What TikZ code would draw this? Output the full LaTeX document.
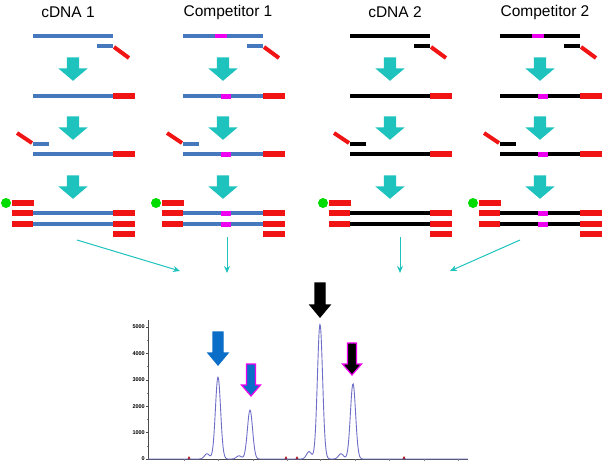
\documentclass[tikz,border=0pt]{standalone}
\usepackage{fontspec}
\setmainfont{Liberation Sans}
\usetikzlibrary{arrows.meta}
\definecolor{dblue}{RGB}{70,120,190}
\definecolor{dred}{RGB}{240,20,20}
\definecolor{mag}{RGB}{240,0,240}
\definecolor{teal2}{RGB}{30,195,190}
\definecolor{pk}{RGB}{110,110,200}
\definecolor{ablue}{RGB}{10,110,200}
\newcommand\dnarr[8]{% x ytop ybot shaftw headw headh fill draw
  \filldraw[fill=#7,draw=#8,line width=1.2pt,line join=miter] (#1-#4/2,#2) -- (#1+#4/2,#2) -- (#1+#4/2,#3-#6) -- (#1+#5/2,#3-#6) -- (#1,#3) -- (#1-#5/2,#3-#6) -- (#1-#4/2,#3-#6) -- cycle;}
\begin{document}
\begin{tikzpicture}[x=1pt,y=-1pt,
  bl/.style={line width=4pt},
  rd/.style={line width=5.5pt,dred},
  title/.style={font=\fontsize{15.5}{17}\selectfont},
  con/.style={teal2,line width=1pt,-{Stealth[length=7pt,width=6pt]}}]
\useasboundingbox (0,0) rectangle (609,472);
\fill[white] (0,0) rectangle (609,472);
\node[title] (t1) at (68,12) {cDNA 1};
\node[title] (t2) at (228,12) {Competitor 1};
\node[title] (t3) at (395,12) {cDNA 2};
\node[title] (t4) at (545,12) {Competitor 2};
\foreach \ox/\sc/\comp in {0/dblue/0,150/dblue/1,317/black/0,467/black/1}{
  \begin{scope}[xshift=\ox]
  \draw[bl,\sc] (33,36) -- (113,36);
  \draw[bl,\sc] (97,46) -- (113,46);
  \draw[line width=4pt,dred] (114,47) -- (129,58);
  \draw[bl,\sc] (33,96) -- (113,96); \draw[rd] (113,96) -- (135,96);
  \draw[line width=4pt,dred] (17,133) -- (32,143);
  \draw[bl,\sc] (33,144) -- (49,144);
  \draw[bl,\sc] (33,154) -- (113,154); \draw[rd] (113,154) -- (135,154);
  \fill[green!80!black!70!green] (6,203) circle (5);
  \draw[rd] (12,203) -- (34,203);
  \foreach \yy in {213,224}{
    \draw[rd] (12,\yy) -- (33,\yy); \draw[bl,\sc] (33,\yy) -- (113,\yy); \draw[rd] (113,\yy) -- (135,\yy);}
  \draw[rd] (113,234) -- (135,234);
  \ifnum\comp=1
    \draw[line width=4pt,mag] (65,36) -- (77,36);
    \foreach \yy in {96,154,213,224} {\draw[line width=5pt,mag] (71,\yy) -- (81,\yy);}
  \fi
  \dnarr{73}{58}{80}{11}{26}{11}{teal2}{teal2}
  \dnarr{73}{117}{139}{11}{26}{11}{teal2}{teal2}
  \dnarr{73}{176}{198}{11}{26}{11}{teal2}{teal2}
  \end{scope}}
\coordinate (s1) at (77,240); \coordinate (e1) at (180,271);
\coordinate (s2) at (227,237); \coordinate (e2) at (227,273);
\coordinate (s3) at (400,237); \coordinate (e3) at (400,273);
\coordinate (s4) at (520,240); \coordinate (e4) at (450,271);
\foreach \i in {1,2,3,4} \draw[con] (s\i) -- (e\i);
\draw[black!70,line width=0.6pt] (148,320) -- (148,459) -- (468,459);
\foreach \v/\l in {0/0,1/1000,2/2000,3/3000,4/4000,5/5000}{
  \draw[black!70] (146,459-26.4*\v) -- (148,459-26.4*\v);
  \node[anchor=east,font=\fontsize{5.5}{6}\bfseries\selectfont,inner sep=1pt] at (146,459-26.4*\v) {\l};}
\foreach \v in {0.5,1.5,2.5,3.5,4.5} \draw[black!50] (147,459-26.4*\v) -- (148,459-26.4*\v);
\foreach \xx in {184,218,253,287,320,355,389,424,458} \draw[black!50] (\xx,459) -- (\xx,461);
\foreach \xx in {189,286,297,404} \fill[red!70!black] (\xx-1.5,459) -- (\xx+1.5,459) -- (\xx,456) -- cycle;
\draw[pk,line width=0.9pt] plot[domain=148:468,samples=500,smooth] (\x,{459-26.4*(3.1*exp(-((\x-218)/2.6)^2/2)+1.85*exp(-((\x-250)/2.6)^2/2)+5.1*exp(-((\x-320)/2.6)^2/2)+2.85*exp(-((\x-353)/2.6)^2/2)+0.2*exp(-((\x-207)/2.5)^2/2)+0.12*exp(-((\x-239)/2.5)^2/2)+0.28*exp(-((\x-309)/2.5)^2/2)+0.2*exp(-((\x-341)/2.5)^2/2))});
\dnarr{218}{332}{365}{10}{20}{12}{ablue}{ablue}
\dnarr{251}{364}{396}{9}{19}{11}{ablue}{mag}
\dnarr{320}{283}{317}{10}{20}{12}{black}{black}
\dnarr{352}{343}{375}{9}{19}{11}{black}{mag}
\end{tikzpicture}
\end{document}
